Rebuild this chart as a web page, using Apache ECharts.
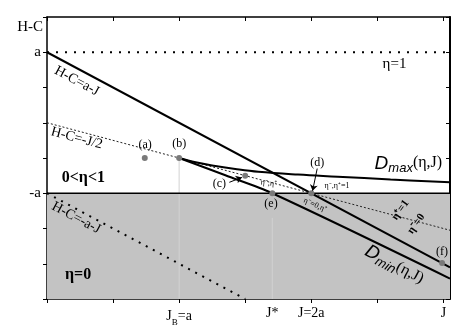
<!DOCTYPE html>
<html><head><meta charset="utf-8">
<script src="https://cdn.jsdelivr.net/npm/echarts@6/dist/echarts.min.js"></script>
<style>html,body{margin:0;padding:0;background:#fff}#c{width:474px;height:333px}</style>
</head><body><div id="c"></div>
<script>
// ---- data (units: a = 2, one tick = a/2) ----
const xRange = [0, 6.1];
const yRange = [-5, 3];
const xTickValues = [0, 1, 2, 3, 4, 5, 6];
const xLabelValues = [2, 3.41, 4, 6];
const xLabelTexts = ['{j|J}{s|B}{j|=a}', 'J*', 'J=2a', 'J'];
const yLabelValues = [2, -2];
const yLabelTexts = ['a', '-a'];
const lineEta1 = [[0, 2], [6.1, 2]];
const lineMinusA = [[0, -2], [6.1, -2]];
const lineAminusJ = [[0, 2], [6.1, -4.1]];
const lineHalfJ = [[0, 0], [6.1, -3.05]];
const lineMinusAminusJ = [[0, -2], [3, -5]];
const dMax = [[2, -1], [2.25, -1.12], [2.5, -1.21], [2.85, -1.31], [3.2, -1.39], [3.8, -1.47], [4.4, -1.53], [5.2, -1.61], [6.1, -1.69]];
const dMin = [[2, -1], [2.7, -1.49], [3.41, -2], [6.1, -4.42]];
const guideJB = [[2, -1], [2, -5]];
const guideJstar = [[3.41, -2.7], [3.41, -5]];
const markedPoints = [[1.48, -1.0], [2, -1], [3, -1.5], [4, -2], [3.41, -2], [5.98, -3.98]];
const arrowC = [[2.76, -1.69], [2.95, -1.55]];
const arrowD = [[4.09, -1.30], [4.02, -1.93]];
const annoTexts = ['H-C=a-J', 'H-C=-J/2', 'H-C=-a-J', '0<η<1', 'η=0', 'η=1',
  '(a)', '(b)', '(c)', '(d)', '(e)', '(f)',
  'η⁻,η⁺', 'η⁻,η⁺=1', 'η⁻=0,η⁺', 'η⁺=1', 'η⁻=0'];
const annoAnchors = [[0.45, 1.18], [0.45, -0.44], [0.44, -2.7], [0.55, -1.55], [0.47, -4.31], [5.26, 1.66],
  [1.485, -0.62], [2.0, -0.59], [2.61, -1.72], [4.09, -1.13], [3.39, -2.31], [5.98, -3.66],
  [3.36, -1.72], [4.39, -1.80], [4.06, -2.34], [5.35, -2.48], [5.59, -2.87]];
const dMaxAnchor = [5.47, -1.15];
const dMinAnchor = [5.26, -4.03];

// ---- styles ----
const serif = 'Liberation Serif';
const annoStyle = [
  {s: 14, r: -28}, {s: 14, r: -15}, {s: 14, r: -28}, {s: 16, r: 0, w: 'bold'}, {s: 16, r: 0, w: 'bold'}, {s: 15, r: 0},
  {s: 12}, {s: 12}, {s: 12}, {s: 12}, {s: 12}, {s: 12},
  {s: 8, r: -6}, {s: 8, r: 0}, {s: 8, r: -24}, {s: 11, r: 55, w: 'bold'}, {s: 11, r: 55, w: 'bold'}
];

function lineSeries(data, opt) {
  return Object.assign({
    type: 'line', data: data, symbol: 'none', silent: true, animation: false,
    lineStyle: {color: '#000', width: 2}
  }, opt);
}

const series = [];
// gray region eta = 0
series.push({
  type: 'line', data: [], silent: true, animation: false, z: 0,
  markArea: {silent: true, itemStyle: {color: '#c3c3c3'}, data: [[{coord: [xRange[0], lineMinusA[0][1]]}, {coord: [xRange[1], yRange[0]]}]]}
});
series.push(lineSeries(guideJB, {lineStyle: {color: '#d2d2d2', width: 1}, z: 1}));
series.push(lineSeries(guideJstar, {lineStyle: {color: '#d2d2d2', width: 1}, z: 1}));
series.push(lineSeries(lineEta1, {lineStyle: {color: '#000', width: 2, type: [2, 7]}}));
series.push(lineSeries(lineMinusA, {lineStyle: {color: '#000', width: 1.5}}));
series.push(lineSeries(lineAminusJ, {lineStyle: {color: '#000', width: 2}}));
series.push(lineSeries(lineHalfJ, {lineStyle: {color: '#222', width: 1, type: [2, 2]}}));
series.push(lineSeries(lineMinusAminusJ, {lineStyle: {color: '#000', width: 2, type: [2, 6]}}));
series.push(lineSeries(dMax, {smooth: 0.4, lineStyle: {color: '#000', width: 2}}));
series.push(lineSeries(dMin, {smooth: 0.3, lineStyle: {color: '#000', width: 2}}));
series.push({
  type: 'lines', coordinateSystem: 'cartesian2d', silent: true, animation: false, z: 6,
  symbol: ['none', 'arrow'], symbolSize: 6,
  lineStyle: {color: '#000', width: 1, opacity: 1},
  data: [{coords: arrowC}, {coords: arrowD}]
});
series.push({
  type: 'scatter', data: markedPoints, symbolSize: 6, silent: true, animation: false,
  itemStyle: {color: '#7a7a7a', opacity: 1}, z: 5
});
series.push({
  type: 'scatter', silent: true, animation: false, clip: false, symbolSize: 0, z: 6,
  itemStyle: {opacity: 1},
  data: annoTexts.map((t, i) => ({
    value: annoAnchors[i],
    label: {
      show: true, position: 'inside', formatter: t, color: '#000',
      fontFamily: serif, fontSize: annoStyle[i].s, rotate: annoStyle[i].r || 0,
      fontWeight: annoStyle[i].w || 'normal', align: 'center', verticalAlign: 'middle'
    }
  }))
});
const dRich = {
  D: {fontFamily: 'Liberation Sans', fontStyle: 'italic', fontSize: 19, color: '#000'},
  m: {fontFamily: 'Liberation Sans', fontStyle: 'italic', fontSize: 13, color: '#000', padding: [10, 0, 0, 0]},
  p: {fontFamily: serif, fontSize: 16, color: '#000'}
};
series.push({
  type: 'scatter', silent: true, animation: false, clip: false, symbolSize: 0, z: 6,
  itemStyle: {opacity: 1},
  data: [
    {value: dMaxAnchor, label: {show: true, position: 'inside', formatter: '{D|D}{m|max}{p|(η,J)}', rich: dRich}},
    {value: dMinAnchor, label: {show: true, position: 'inside', rotate: -28, formatter: '{D|D}{m|min}{p|(η,J)}', rich: dRich}}
  ]
});

const axisCommon = {type: 'value', splitLine: {show: false}};
const axisLineStyle = {show: true, onZero: false, lineStyle: {color: '#000', width: 1.5}};
const option = {
  animation: false,
  backgroundColor: '#fff',
  grid: {left: 47, right: 24, top: 17, bottom: 34},
  xAxis: [
    Object.assign({}, axisCommon, {
      min: xRange[0], max: xRange[1], interval: 1, position: 'bottom',
      axisLine: axisLineStyle,
      axisTick: {show: true, length: 4, customValues: xTickValues, lineStyle: {color: '#000'}},
      axisLabel: {show: true, customValues: xLabelValues, margin: 7, color: '#000', fontFamily: serif, fontSize: 14,
        formatter: v => { const i = xLabelValues.findIndex(x => Math.abs(x - v) < 1e-6); return i < 0 ? '' : xLabelTexts[i]; },
        rich: {j: {fontFamily: serif, fontSize: 14, color: '#000'}, s: {fontFamily: serif, fontSize: 9, color: '#000', padding: [12, 0, 0, 0]}}}
    }),
    Object.assign({}, axisCommon, {
      min: xRange[0], max: xRange[1], interval: 1, position: 'top',
      axisLine: axisLineStyle,
      axisTick: {show: true, inside: true, length: 4, customValues: xTickValues, lineStyle: {color: '#000'}},
      axisLabel: {show: false}
    })
  ],
  yAxis: [
    Object.assign({}, axisCommon, {
      min: yRange[0], max: yRange[1], interval: 1, position: 'left',
      axisLine: axisLineStyle,
      name: 'H-C', nameLocation: 'end', nameGap: -10,
      nameTextStyle: {fontFamily: serif, fontSize: 15, color: '#000', align: 'right', verticalAlign: 'middle', padding: [0, 4, 0, 0]},
      axisTick: {show: true, length: 4, lineStyle: {color: '#000'}},
      axisLabel: {show: true, customValues: yLabelValues, margin: 6, color: '#000', fontFamily: serif, fontSize: 15,
        formatter: v => { const i = yLabelValues.findIndex(x => Math.abs(x - v) < 1e-6); return i < 0 ? '' : yLabelTexts[i]; }}
    }),
    Object.assign({}, axisCommon, {
      min: yRange[0], max: yRange[1], interval: 1, position: 'right',
      axisLine: {show: true, onZero: false, lineStyle: {color: '#000', width: 2}},
      axisTick: {show: true, inside: true, length: 4, lineStyle: {color: '#000'}},
      axisLabel: {show: false}
    })
  ],
  series: series
};
const chart = echarts.init(document.getElementById('c'), null, {renderer: 'canvas'});
chart.setOption(option);
</script>
</body></html>
